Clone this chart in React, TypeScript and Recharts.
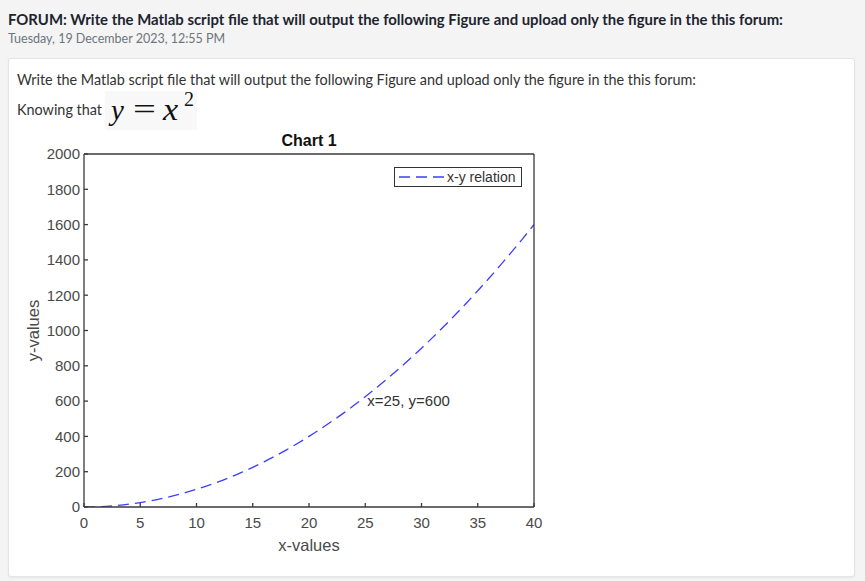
import React from 'react';
import { LineChart, Line, XAxis, YAxis, Legend, ReferenceDot, Label } from 'recharts';

const xValues = [0, 1, 2, 3, 4, 5, 6, 7, 8, 9, 10, 11, 12, 13, 14, 15, 16, 17, 18, 19, 20, 21, 22, 23, 24, 25, 26, 27, 28, 29, 30, 31, 32, 33, 34, 35, 36, 37, 38, 39, 40];
const yValues = [0, 1, 4, 9, 16, 25, 36, 49, 64, 81, 100, 121, 144, 169, 196, 225, 256, 289, 324, 361, 400, 441, 484, 529, 576, 625, 676, 729, 784, 841, 900, 961, 1024, 1089, 1156, 1225, 1296, 1369, 1444, 1521, 1600];
const xTicks = [0, 5, 10, 15, 20, 25, 30, 35, 40];
const yTicks = [0, 200, 400, 600, 800, 1000, 1200, 1400, 1600, 1800, 2000];
const seriesName = 'x-y relation';
const noteX = 25;
const noteY = 600;
const noteText = 'x=25, y=600';

const data = xValues.map((x, i) => ({ x, y: yValues[i] }));

const BLUE = '#3c3cff';
const AXIS = '#3a3a3a';
const TICK_TEXT = '#4a4a4a';
const DASH = '11 6';
const UI_FONT = 'Lato, "Open Sans", sans-serif';
const PLOT_FONT = '"Liberation Sans", Arial, sans-serif';

const LegendBox = (props: any) => {
  const item = props.payload && props.payload[0];
  return (
    <div
      style={{
        width: 126,
        height: 18,
        border: '1px solid #333',
        background: '#fff',
        display: 'flex',
        alignItems: 'center',
      }}
    >
      <svg width={52} height={18}>
        <line x1={4} y1={9} x2={49} y2={9} stroke={item ? item.color : BLUE} strokeWidth={1.3} strokeDasharray={DASH} />
      </svg>
      <span style={{ font: `14px ${PLOT_FONT}`, color: '#333', whiteSpace: 'nowrap' }}>
        {item ? item.value : seriesName}
      </span>
    </div>
  );
};

export default function App() {
  return (
    <div
      style={{
        position: 'absolute',
        left: 0,
        top: 0,
        width: 865,
        height: 581,
        background: '#f4f4f4',
        overflow: 'hidden',
        fontFamily: UI_FONT,
      }}
    >
      <div style={{ position: 'absolute', left: 8, top: 10, fontSize: 14.9, fontWeight: 700, color: '#1d2430', whiteSpace: 'nowrap' }}>
        FORUM: Write the Matlab script file that will output the following Figure and upload only the figure in the this forum:
      </div>
      <div style={{ position: 'absolute', left: 8, top: 31, fontSize: 12.5, color: '#6c747c', whiteSpace: 'nowrap' }}>
        Tuesday, 19 December 2023, 12:55 PM
      </div>

      {/* post card */}
      <div
        style={{
          position: 'absolute',
          left: 8,
          top: 58,
          width: 845,
          height: 517,
          background: '#fff',
          border: '1px solid #e4e4e4',
          borderRadius: 3,
          boxShadow: '0 1px 2px rgba(0,0,0,0.06)',
        }}
      />
      <div style={{ position: 'absolute', left: 17, top: 71, fontSize: 14.4, color: '#333', whiteSpace: 'nowrap' }}>
        Write the Matlab script file that will output the following Figure and upload only the figure in the this forum:
      </div>
      <div style={{ position: 'absolute', left: 17, top: 101, fontSize: 14.4, color: '#333', whiteSpace: 'nowrap' }}>
        Knowing that
      </div>
      <div
        style={{
          position: 'absolute',
          left: 105,
          top: 91,
          width: 92,
          height: 39,
          background: '#f8f8f8',
          fontFamily: '"Liberation Serif", "DejaVu Serif", serif',
          fontSize: 29,
          lineHeight: '29px',
          color: '#111',
        }}
      >
        <span style={{ position: 'absolute', left: 6, top: 5, fontStyle: 'italic' }}>y</span>
        <span style={{ position: 'absolute', left: 28, top: 4, display: 'inline-block', transform: 'scaleX(1.4)', transformOrigin: 'left center' }}>=</span>
        <span style={{ position: 'absolute', left: 58, top: 4, fontStyle: 'italic', fontSize: 31, display: 'inline-block', transform: 'scaleX(1.1)', transformOrigin: 'left center' }}>x</span>
        <span style={{ position: 'absolute', left: 79, top: -2, fontSize: 20, lineHeight: '20px' }}>2</span>
      </div>

      {/* figure */}
      <div
        style={{
          position: 'absolute',
          left: 84,
          top: 131,
          width: 450,
          textAlign: 'center',
          font: `bold 16px ${PLOT_FONT}`,
          lineHeight: '20px',
          color: '#111',
        }}
      >
        Chart 1
      </div>
      <div style={{ position: 'absolute', left: 20, top: 128, fontFamily: PLOT_FONT }}>
        <LineChart width={530} height={432} data={data} margin={{ top: 25, right: 15, bottom: 0, left: 0 }}>
          <XAxis
            dataKey="x"
            type="number"
            domain={[0, 40]}
            ticks={xTicks}
            height={53}
            tickSize={-4}
            tickMargin={14}
            stroke={AXIS}
            strokeWidth={1.3}
            tick={{ fill: TICK_TEXT, fontSize: 15, fontFamily: PLOT_FONT }}
            allowDataOverflow
          >
            <Label
              value="x-values"
              position="insideBottom"
              offset={9}
              fontFamily={PLOT_FONT}
              fontSize={16.5}
              fill={TICK_TEXT}
              style={{ fill: TICK_TEXT, fontSize: 16.5, fontFamily: PLOT_FONT }}
            />
          </XAxis>
          <XAxis
            xAxisId="top"
            orientation="top"
            dataKey="x"
            type="number"
            domain={[0, 40]}
            ticks={xTicks}
            height={1}
            tickSize={-4}
            tick={false}
            stroke={AXIS}
            strokeWidth={1.3}
            allowDataOverflow
          />
          <YAxis
            type="number"
            domain={[0, 2000]}
            ticks={yTicks}
            width={64}
            tickSize={-4}
            tickMargin={8}
            stroke={AXIS}
            strokeWidth={1.3}
            tick={{ fill: TICK_TEXT, fontSize: 15, fontFamily: PLOT_FONT }}
            allowDataOverflow
          >
            <Label
              value="y-values"
              angle={-90}
              position="insideLeft"
              offset={13}
              fontFamily={PLOT_FONT}
              fontSize={16.5}
              fill={TICK_TEXT}
              style={{ fill: TICK_TEXT, fontSize: 16.5, fontFamily: PLOT_FONT, textAnchor: 'middle' }}
            />
          </YAxis>
          <YAxis
            yAxisId="right"
            orientation="right"
            type="number"
            domain={[0, 2000]}
            ticks={yTicks}
            width={1}
            tickSize={-4}
            tick={false}
            stroke={AXIS}
            strokeWidth={1.3}
            allowDataOverflow
          />
          <Legend
            layout="horizontal"
            verticalAlign="middle"
            align="center"
            content={<LegendBox />}
            wrapperStyle={{ left: 374, top: 39, width: 'auto' }}
          />
          <Line
            type="monotone"
            dataKey="y"
            name={seriesName}
            stroke={BLUE}
            strokeWidth={1.3}
            strokeDasharray={DASH}
            dot={false}
            activeDot={false}
            isAnimationActive={false}
          />
          <ReferenceDot
            x={noteX}
            y={noteY}
            r={0}
            fill="none"
            stroke="none"
            label={{ value: noteText, position: 'right', offset: 2, fill: '#333', fontSize: 15, fontFamily: PLOT_FONT }}
          />
        </LineChart>
      </div>
    </div>
  );
}
